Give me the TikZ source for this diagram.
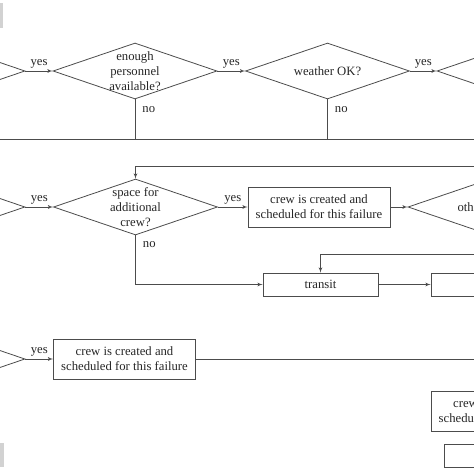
\documentclass[tikz,border=0pt]{standalone}
\usepackage{fontspec}
\setmainfont{Liberation Serif}
\usepackage{tikz}
\usetikzlibrary{arrows,shapes.geometric}
\tikzstyle{every node}=[font=\fontsize{12.7}{14.8}\selectfont,text=black!85]
\tikzstyle{decision}=[diamond,
                                    thick,
                                    draw=black!70,
                                    inner sep=0pt,
                                    minimum width=164pt,
                                    minimum height=56pt
                                    ]
\tikzstyle{task}=[rectangle,
                                thick,
                                draw=black!70,
                                align=center,
                                minimum width=142pt,
                                minimum height=40pt]
\tikzstyle{short}=[task,
                                minimum width=115pt,
                                minimum height=23pt]
\tikzstyle{answer}=[inner sep=2pt]

\begin{document}
\begin{tikzpicture}[x=1pt,y=-1pt,auto,>=latex',draw=black!70]
\useasboundingbox (0,0) rectangle (474,474);
\clip (0,0) rectangle (474,474);
\fill[gray!35] (0,3) rectangle (3,28);
\fill[gray!35] (0,443) rectangle (4,467);
% first row
\node (Q_0)   [decision] at (-57,71) {};
\node (Q_1)   [decision,label={[align=center]center:enough\\personnel\\available?}] at (135,71) {};
\node (Q_2)   [decision,label={center:weather OK?}] at (327.5,71) {};
\node (Q_3)   [decision] at (519,71) {};
\coordinate (bus_l) at (-10,139);
\coordinate (bus_r) at (490,139);
% second row
\node (S_0)   [decision] at (-57,207) {};
\node (S_1)   [decision,label={[align=center]center:space for\\additional\\crew?}] at (135.5,207) {};
\node (C_1)   [task] at (319,207) {crew is created and\\scheduled for this failure};
\node (S_2)   [decision,label={[xshift=4pt]center:other failures?}] at (490,207) {};
\node (T_1)   [short] at (320.5,284.5) {transit};
\node (T_2)   [short] at (488.5,284.5) {};
\coordinate (loop_a) at (490,166);
\coordinate (loop_b) at (490,254);
% third row
\node (R_0)   [decision] at (-57,359) {};
\node (C_2)   [task] at (124.5,359) {crew is created and\\scheduled for this failure};
\node (C_3)   [task] at (502,411) {crew is created and\\scheduled for this failure};
\node (E_1)   [short] at (501.5,456) {};
\coordinate (row_r) at (490,359);
 \path[->] (Q_0.east) edge[thick] node[answer,above] {yes} (Q_1.west);
 \path[->] (Q_1.east) edge[thick] node[answer,above] {yes} (Q_2.west);
 \path[->] (Q_2.east) edge[thick] node[answer,above] {yes} (Q_3.west);
 \draw[thick] (Q_1.south) -- node[answer,right,pos=0.25,xshift=5pt] {no} (Q_1.south |- bus_l);
 \draw[thick] (Q_2.south) -- node[answer,right,pos=0.25,xshift=5pt] {no} (Q_2.south |- bus_l);
 \draw[thick] (bus_l) -- (bus_r);
 \path[->] (S_0.east) edge[thick] node[answer,above] {yes} (S_1.west);
 \path[->] (S_1.east) edge[thick] node[answer,above] {yes} (C_1.west);
 \path[->] (C_1.east) edge[thick] (S_2.west);
 \draw[->,thick] (loop_a) -| (S_1.north);
 \draw[->,thick] (S_1.south) |- node[answer,right,pos=0.09,xshift=5pt] {no} (T_1.west);
 \draw[->,thick] (loop_b) -| (T_1.north);
 \path[->] (T_1.east) edge[thick] (T_2.west);
 \path[->] (R_0.east) edge[thick] node[answer,above] {yes} (C_2.west);
 \draw[thick] (C_2.east) -- (row_r);
\end{tikzpicture}
\end{document}
